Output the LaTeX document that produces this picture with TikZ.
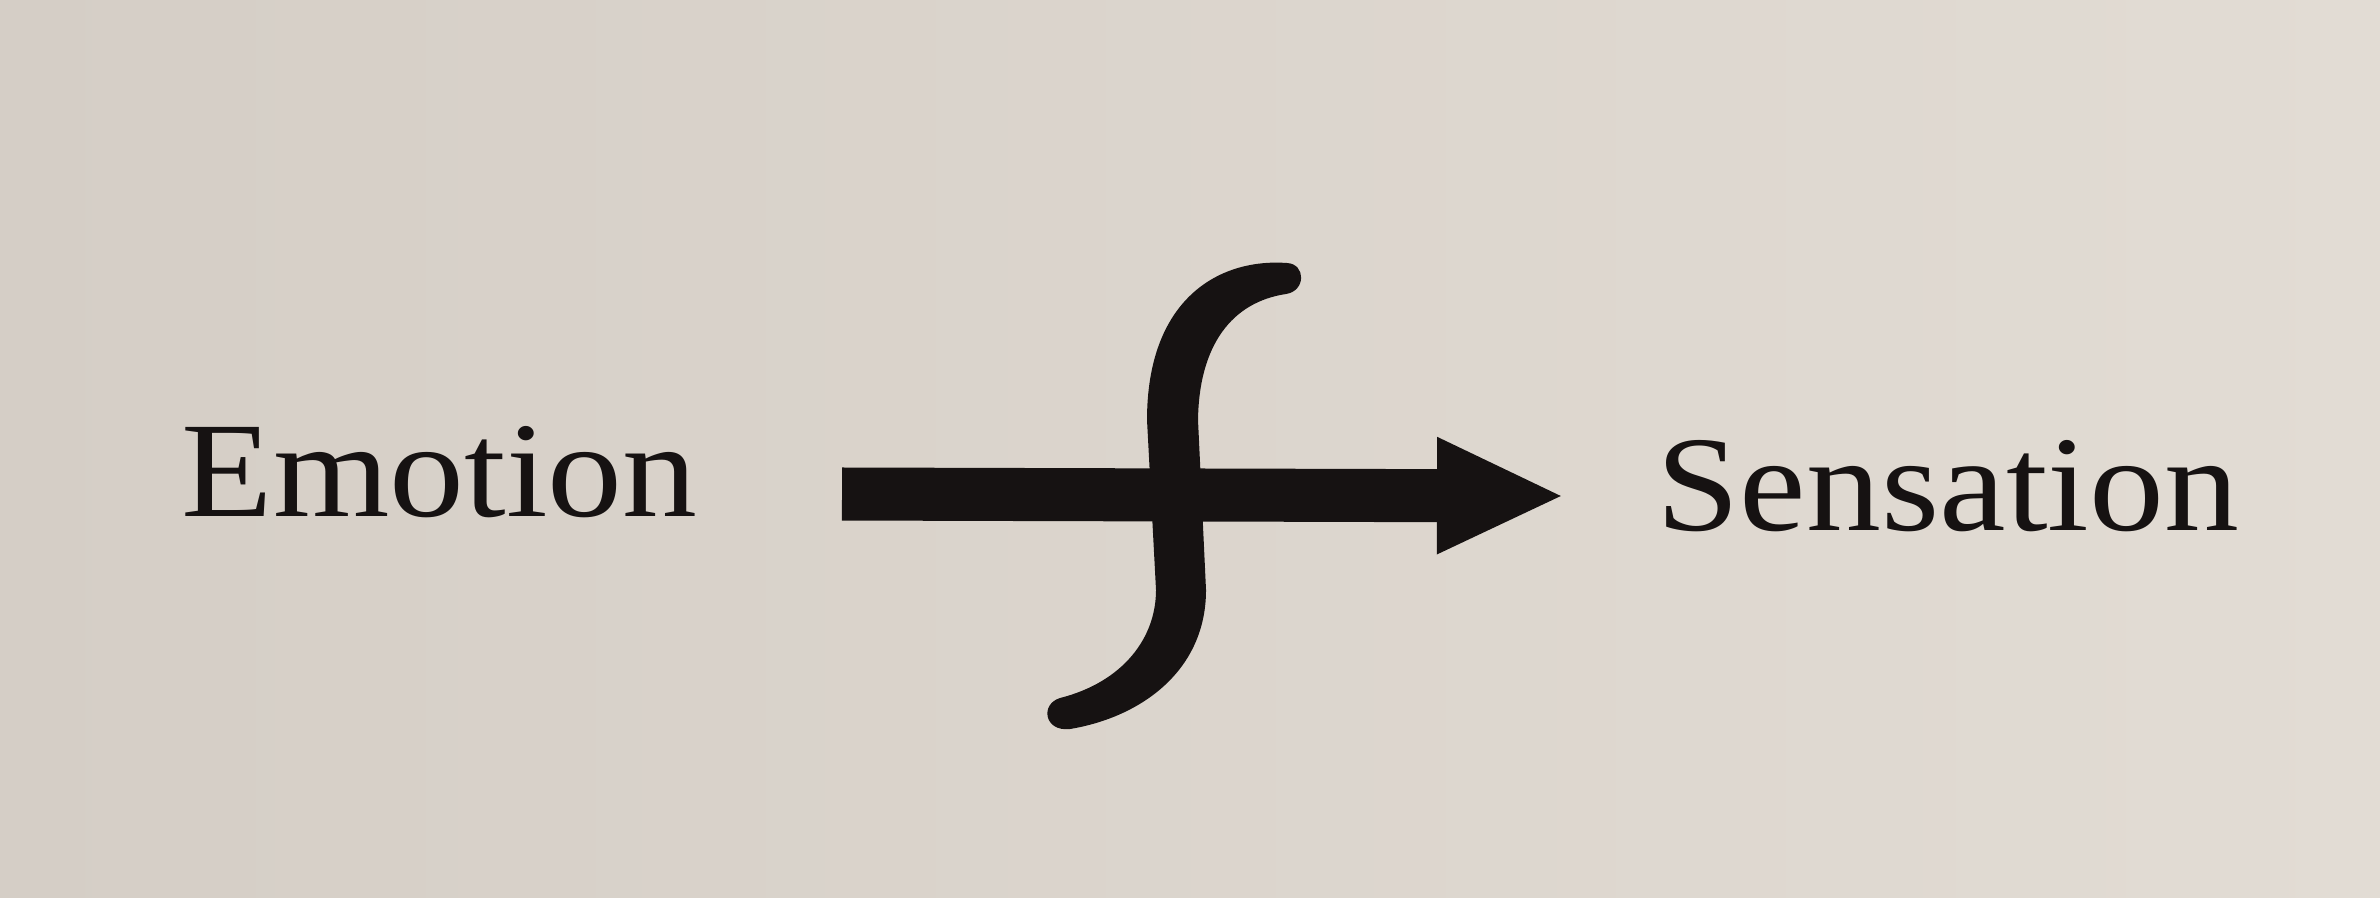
\documentclass[tikz,border=0pt]{standalone}
\usepackage{fontspec}
\setmainfont[FakeStretch=1.1]{Liberation Serif}
\usetikzlibrary{arrows.meta}
\definecolor{paperL}{RGB}{213,206,198}
\definecolor{paperR}{RGB}{226,220,212}
\definecolor{ink}{RGB}{22,18,18}
\tikzset{
  label/.style={inner sep=0pt, anchor=base west, text=ink, font=\fontsize{38.7}{46}\selectfont},
  bigarrow/.style={draw=ink, line width=0.53cm, -{Triangle[length=1.28cm,width=1.07cm]}},
  integral/.style={fill=ink}
}
\begin{document}
\begin{tikzpicture}[x=0.01cm,y=-0.01cm]
\useasboundingbox (0,0) rectangle (2380,897);
\shade[left color=paperL, right color=paperR] (0,0) rectangle (2380,897);
\node[label] (emo) at (181,516) {Emotion};
\node[label] (sen) at (1656,530) {Sensation};
\coordinate (as) at (842,494);
\coordinate (ae) at (1565,496);
\draw[bigarrow] (as) -- (ae);
\fill[integral] (1287,263)
  .. controls (1218,258) and (1147,300) .. (1147,420)
  -- (1156,590)
  .. controls (1156,638) and (1123,682) .. (1060,698)
  .. controls (1040,704) and (1044,732) .. (1070,729)
  .. controls (1142,717) and (1206,670) .. (1206,590)
  -- (1198,420)
  .. controls (1199,345) and (1232,302) .. (1286,294)
  .. controls (1306,291) and (1306,264) .. (1287,263)
  -- cycle;
\end{tikzpicture}
\end{document}
